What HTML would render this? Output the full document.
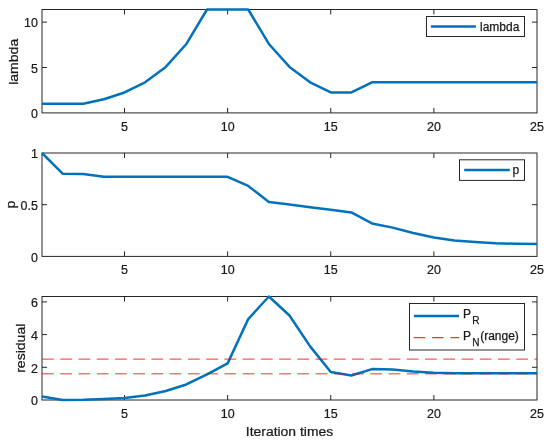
<!DOCTYPE html><html><head><meta charset="utf-8"><title>Figure</title><style>html,body{margin:0;padding:0;background:#fff;overflow:hidden;}svg{display:block;}text{font-family:"Liberation Sans",Arial,Helvetica,sans-serif;fill:#1a1a1a;stroke:#1a1a1a;stroke-width:0.25px;}</style></head><body>
<svg width="550" height="442" viewBox="0 0 550 442">
<rect width="550" height="442" fill="#fff"/>
<rect x="42.00" y="9.50" width="495.00" height="103.40" fill="none" stroke="#262626" stroke-width="1"/>
<line x1="124.50" y1="112.90" x2="124.50" y2="107.90" stroke="#262626" stroke-width="1.00"/>
<line x1="124.50" y1="9.50" x2="124.50" y2="14.50" stroke="#262626" stroke-width="1.00"/>
<text transform="translate(124.50,130.80) scale(0.910,1)" font-size="13.70" text-anchor="middle">5</text>
<line x1="227.62" y1="112.90" x2="227.62" y2="107.90" stroke="#262626" stroke-width="1.00"/>
<line x1="227.62" y1="9.50" x2="227.62" y2="14.50" stroke="#262626" stroke-width="1.00"/>
<text transform="translate(227.62,130.80) scale(0.910,1)" font-size="13.70" text-anchor="middle">10</text>
<line x1="330.75" y1="112.90" x2="330.75" y2="107.90" stroke="#262626" stroke-width="1.00"/>
<line x1="330.75" y1="9.50" x2="330.75" y2="14.50" stroke="#262626" stroke-width="1.00"/>
<text transform="translate(330.75,130.80) scale(0.910,1)" font-size="13.70" text-anchor="middle">15</text>
<line x1="433.88" y1="112.90" x2="433.88" y2="107.90" stroke="#262626" stroke-width="1.00"/>
<line x1="433.88" y1="9.50" x2="433.88" y2="14.50" stroke="#262626" stroke-width="1.00"/>
<text transform="translate(433.88,130.80) scale(0.910,1)" font-size="13.70" text-anchor="middle">20</text>
<text transform="translate(537.00,130.80) scale(0.910,1)" font-size="13.70" text-anchor="middle">25</text>
<text transform="translate(37.90,118.20) scale(0.910,1)" font-size="13.70" text-anchor="end">0</text>
<line x1="42.00" y1="67.51" x2="47.00" y2="67.51" stroke="#262626" stroke-width="1.00"/>
<line x1="537.00" y1="67.51" x2="532.00" y2="67.51" stroke="#262626" stroke-width="1.00"/>
<text transform="translate(37.90,72.81) scale(0.910,1)" font-size="13.70" text-anchor="end">5</text>
<line x1="42.00" y1="22.12" x2="47.00" y2="22.12" stroke="#262626" stroke-width="1.00"/>
<line x1="537.00" y1="22.12" x2="532.00" y2="22.12" stroke="#262626" stroke-width="1.00"/>
<text transform="translate(37.90,27.42) scale(0.910,1)" font-size="13.70" text-anchor="end">10</text>
<text transform="translate(18.30,61.80) rotate(-90) scale(1.025,1)" font-size="13.70" text-anchor="middle">lambda</text>
<polyline points="42.00,103.82 62.62,103.82 83.25,103.82 103.88,99.28 124.50,92.48 145.12,82.26 165.75,66.94 186.38,43.97 207.00,9.50 227.62,9.50 248.25,9.50 268.88,43.97 289.50,66.94 310.12,82.26 330.75,92.48 351.38,92.48 372.00,82.26 392.62,82.26 413.25,82.26 433.88,82.26 454.50,82.26 475.12,82.26 495.75,82.26 516.38,82.26 537.00,82.26" fill="none" stroke="#0072BD" stroke-width="2.50" stroke-linejoin="round" stroke-linecap="butt"/>
<rect x="42.00" y="153.00" width="495.00" height="103.40" fill="none" stroke="#262626" stroke-width="1"/>
<line x1="124.50" y1="256.40" x2="124.50" y2="251.40" stroke="#262626" stroke-width="1.00"/>
<line x1="124.50" y1="153.00" x2="124.50" y2="158.00" stroke="#262626" stroke-width="1.00"/>
<text transform="translate(124.50,274.30) scale(0.910,1)" font-size="13.70" text-anchor="middle">5</text>
<line x1="227.62" y1="256.40" x2="227.62" y2="251.40" stroke="#262626" stroke-width="1.00"/>
<line x1="227.62" y1="153.00" x2="227.62" y2="158.00" stroke="#262626" stroke-width="1.00"/>
<text transform="translate(227.62,274.30) scale(0.910,1)" font-size="13.70" text-anchor="middle">10</text>
<line x1="330.75" y1="256.40" x2="330.75" y2="251.40" stroke="#262626" stroke-width="1.00"/>
<line x1="330.75" y1="153.00" x2="330.75" y2="158.00" stroke="#262626" stroke-width="1.00"/>
<text transform="translate(330.75,274.30) scale(0.910,1)" font-size="13.70" text-anchor="middle">15</text>
<line x1="433.88" y1="256.40" x2="433.88" y2="251.40" stroke="#262626" stroke-width="1.00"/>
<line x1="433.88" y1="153.00" x2="433.88" y2="158.00" stroke="#262626" stroke-width="1.00"/>
<text transform="translate(433.88,274.30) scale(0.910,1)" font-size="13.70" text-anchor="middle">20</text>
<text transform="translate(537.00,274.30) scale(0.910,1)" font-size="13.70" text-anchor="middle">25</text>
<text transform="translate(37.90,261.70) scale(0.910,1)" font-size="13.70" text-anchor="end">0</text>
<line x1="42.00" y1="204.70" x2="47.00" y2="204.70" stroke="#262626" stroke-width="1.00"/>
<line x1="537.00" y1="204.70" x2="532.00" y2="204.70" stroke="#262626" stroke-width="1.00"/>
<text transform="translate(37.90,210.00) scale(0.910,1)" font-size="13.70" text-anchor="end">0.5</text>
<text transform="translate(37.90,158.30) scale(0.910,1)" font-size="13.70" text-anchor="end">1</text>
<text transform="translate(14.60,204.70) rotate(-90) scale(1.025,1)" font-size="13.70" text-anchor="middle">p</text>
<polyline points="42.00,153.00 62.62,173.68 83.25,174.09 103.88,176.78 124.50,176.78 145.12,176.78 165.75,176.78 186.38,176.78 207.00,176.78 227.62,176.78 248.25,185.98 268.88,202.01 289.50,204.39 310.12,207.18 330.75,209.66 351.38,212.45 372.00,223.42 392.62,227.65 413.25,232.93 433.88,237.58 454.50,240.48 475.12,241.92 495.75,243.37 516.38,243.79 537.00,243.99" fill="none" stroke="#0072BD" stroke-width="2.50" stroke-linejoin="round" stroke-linecap="butt"/>
<rect x="42.00" y="296.50" width="495.00" height="103.50" fill="none" stroke="#262626" stroke-width="1"/>
<line x1="124.50" y1="400.00" x2="124.50" y2="395.00" stroke="#262626" stroke-width="1.00"/>
<line x1="124.50" y1="296.50" x2="124.50" y2="301.50" stroke="#262626" stroke-width="1.00"/>
<text transform="translate(124.50,417.90) scale(0.910,1)" font-size="13.70" text-anchor="middle">5</text>
<line x1="227.62" y1="400.00" x2="227.62" y2="395.00" stroke="#262626" stroke-width="1.00"/>
<line x1="227.62" y1="296.50" x2="227.62" y2="301.50" stroke="#262626" stroke-width="1.00"/>
<text transform="translate(227.62,417.90) scale(0.910,1)" font-size="13.70" text-anchor="middle">10</text>
<line x1="330.75" y1="400.00" x2="330.75" y2="395.00" stroke="#262626" stroke-width="1.00"/>
<line x1="330.75" y1="296.50" x2="330.75" y2="301.50" stroke="#262626" stroke-width="1.00"/>
<text transform="translate(330.75,417.90) scale(0.910,1)" font-size="13.70" text-anchor="middle">15</text>
<line x1="433.88" y1="400.00" x2="433.88" y2="395.00" stroke="#262626" stroke-width="1.00"/>
<line x1="433.88" y1="296.50" x2="433.88" y2="301.50" stroke="#262626" stroke-width="1.00"/>
<text transform="translate(433.88,417.90) scale(0.910,1)" font-size="13.70" text-anchor="middle">20</text>
<text transform="translate(537.00,417.90) scale(0.910,1)" font-size="13.70" text-anchor="middle">25</text>
<text transform="translate(37.90,405.30) scale(0.910,1)" font-size="13.70" text-anchor="end">0</text>
<line x1="42.00" y1="367.30" x2="47.00" y2="367.30" stroke="#262626" stroke-width="1.00"/>
<line x1="537.00" y1="367.30" x2="532.00" y2="367.30" stroke="#262626" stroke-width="1.00"/>
<text transform="translate(37.90,372.60) scale(0.910,1)" font-size="13.70" text-anchor="end">2</text>
<line x1="42.00" y1="334.60" x2="47.00" y2="334.60" stroke="#262626" stroke-width="1.00"/>
<line x1="537.00" y1="334.60" x2="532.00" y2="334.60" stroke="#262626" stroke-width="1.00"/>
<text transform="translate(37.90,339.90) scale(0.910,1)" font-size="13.70" text-anchor="end">4</text>
<line x1="42.00" y1="301.90" x2="47.00" y2="301.90" stroke="#262626" stroke-width="1.00"/>
<line x1="537.00" y1="301.90" x2="532.00" y2="301.90" stroke="#262626" stroke-width="1.00"/>
<text transform="translate(37.90,307.20) scale(0.910,1)" font-size="13.70" text-anchor="end">6</text>
<text transform="translate(24.90,348.25) rotate(-90) scale(1.025,1)" font-size="13.70" text-anchor="middle">residual</text>
<polyline points="42.00,396.40 62.62,400.00 83.25,399.84 103.88,399.02 124.50,398.04 145.12,395.42 165.75,391.01 186.38,384.47 207.00,374.33 227.62,363.37 248.25,319.06 268.88,296.50 289.50,315.47 310.12,346.37 330.75,372.04 351.38,375.47 372.00,369.10 392.62,369.42 413.25,371.55 433.88,372.86 454.50,373.18 475.12,373.18 495.75,373.18 516.38,373.18 537.00,373.18" fill="none" stroke="#0072BD" stroke-width="2.50" stroke-linejoin="round" stroke-linecap="butt"/>
<line x1="42.00" y1="373.84" x2="537.00" y2="373.84" stroke="#ff0000" stroke-width="1.00" stroke-dasharray="11.8 6.44" opacity="0.82"/>
<line x1="42.00" y1="359.12" x2="537.00" y2="359.12" stroke="#ff0000" stroke-width="1.00" stroke-dasharray="11.8 6.44" opacity="0.82"/>
<text transform="translate(289.50,436.00) scale(1.015,1)" font-size="13.70" text-anchor="middle">Iteration times</text>
<rect x="426.50" y="16.50" width="98.00" height="20.00" fill="#fff" stroke="#262626" stroke-width="1"/>
<line x1="430.90" y1="26.50" x2="475.90" y2="26.50" stroke="#0072BD" stroke-width="2.50"/>
<text x="480.0" y="31.1" font-size="12.00">lambda</text>
<rect x="459.50" y="159.80" width="65.00" height="20.60" fill="#fff" stroke="#262626" stroke-width="1"/>
<line x1="464.20" y1="169.90" x2="509.80" y2="169.90" stroke="#0072BD" stroke-width="2.50"/>
<text x="512.5" y="174.2" font-size="12.00">p</text>
<rect x="409.50" y="303.50" width="115.00" height="46.50" fill="#fff" stroke="#262626" stroke-width="1"/>
<line x1="414.00" y1="316.00" x2="459.00" y2="316.00" stroke="#0072BD" stroke-width="2.50"/>
<text x="462.9" y="318.4" font-size="12.00">P<tspan font-size="10.00" dx="1.4" dy="5.5">R</tspan></text>
<line x1="413.60" y1="337.50" x2="459.20" y2="337.50" stroke="#ff0000" stroke-width="1.25" stroke-dasharray="11.6 6.8" opacity="0.8"/>
<text x="462.9" y="340.1" font-size="12.00">P<tspan font-size="10.00" dx="1.4" dy="5.5">N</tspan><tspan dx="0.6" dy="-5.5">(range)</tspan></text>
</svg></body></html>
